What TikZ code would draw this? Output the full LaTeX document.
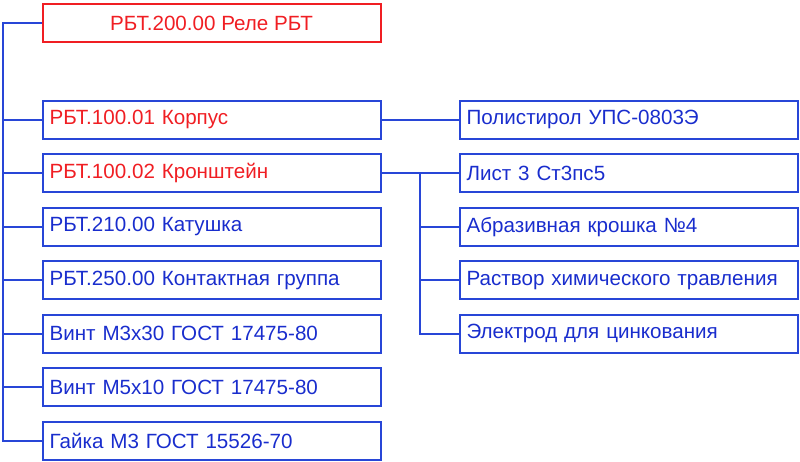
\documentclass[tikz,border=0pt]{standalone}
\usepackage{fontspec}
\setmainfont{Liberation Sans}
\definecolor{lnblue}{RGB}{40,70,215}
\definecolor{txblue}{RGB}{25,45,205}
\definecolor{rd}{RGB}{240,30,35}
\begin{document}
\begin{tikzpicture}[x=1pt,y=-1pt,
  item/.style={draw=lnblue,line width=2.2pt,rectangle,anchor=north west,
    minimum height=38pt,inner xsep=7pt,text width=324pt,align=left,
    font=\fontsize{20.6}{24}\selectfont,text=txblue},
  reditem/.style={item,text=rd},
  wire/.style={draw=lnblue,line width=2.2pt}]
\useasboundingbox (0,0) rectangle (800,461);
\node[draw=rd,line width=2.2pt,rectangle,anchor=north west,minimum height=38pt,
  minimum width=338pt,text=rd,font=\fontsize{20.6}{24}\selectfont] (top) at (41.5,3) {РБТ.200.00 Реле РБТ};
\node[reditem] (k1) at (41.5,99.5) {РБТ.100.01 Корпус};
\node[reditem] (k2) at (41.5,153) {РБТ.100.02 Кронштейн};
\node[item] (k3) at (41.5,206.5) {РБТ.210.00 Катушка};
\node[item] (k4) at (41.5,260) {РБТ.250.00 Контактная группа};
\node[item] (k5) at (41.5,313.5) {Винт М3х30 ГОСТ 17475-80};
\node[item] (k6) at (41.5,367) {Винт М5х10 ГОСТ 17475-80};
\node[item] (k7) at (41.5,420.5) {Гайка М3 ГОСТ 15526-70};
\node[item] (m1) at (458.5,99.5) {Полистирол УПС-0803Э};
\node[item] (m2) at (458.5,153) {Лист 3 Ст3пс5};
\node[item] (m3) at (458.5,206.5) {Абразивная крошка №4};
\node[item] (m4) at (458.5,260) {Раствор химического травления};
\node[item] (m5) at (458.5,313.5) {Электрод для цинкования};
\coordinate (rail) at (3,21.5);
\coordinate (br) at (420,172);
\draw[wire] (top.west) -- (top.west -| rail) |- (k7.west);
\foreach \n in {k1,k2,k3,k4,k5,k6} {\draw[wire] (\n.west) -- (\n.west -| rail);}
\draw[wire] (k1.east) -- (m1.west);
\draw[wire] (k2.east) -- (m2.west);
\draw[wire] (k2.east -| br) |- (m5.west);
\foreach \n in {m3,m4} {\draw[wire] (\n.west) -- (\n.west -| br);}
\end{tikzpicture}
\end{document}
